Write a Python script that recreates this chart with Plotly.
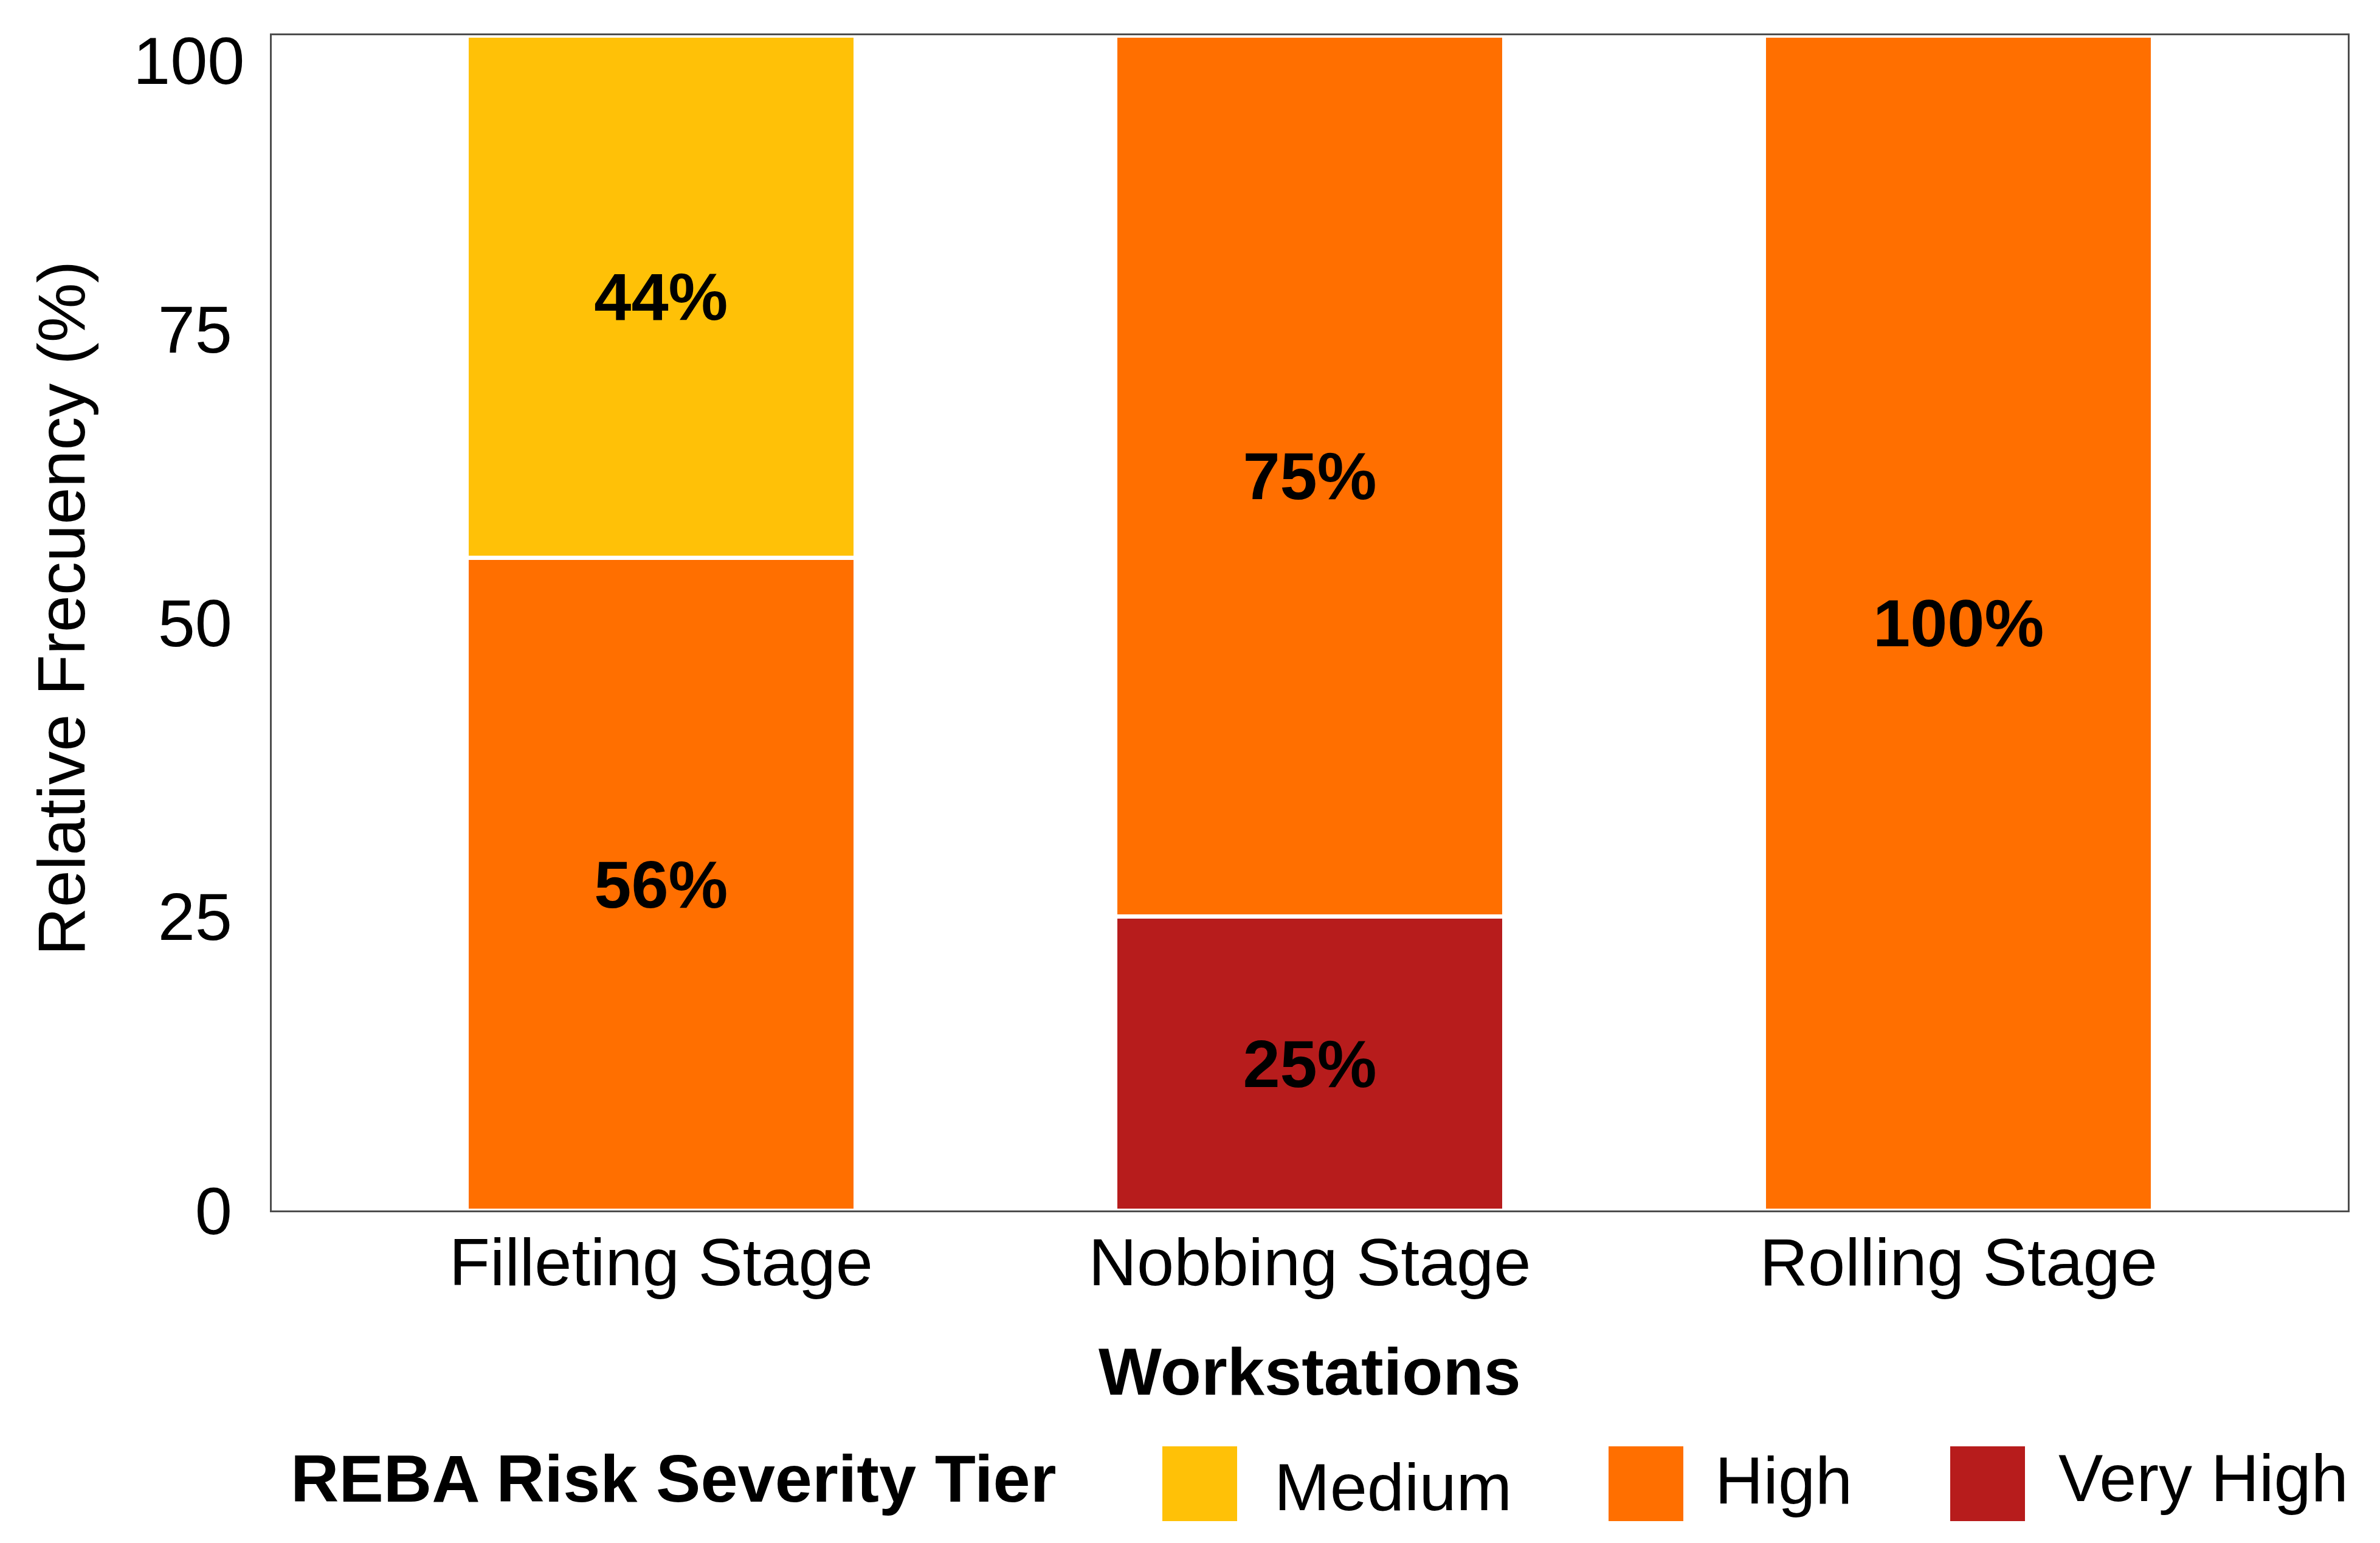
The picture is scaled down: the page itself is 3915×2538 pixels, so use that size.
import plotly.graph_objects as go

# ---------------- data ----------------
categories = ["Filleting Stage", "Nobbing Stage", "Rolling Stage"]
tiers = ["Very High", "High", "Medium"]          # stacking order bottom -> top
very_high = [None, 25.0, None]
high = [55.56, 75.0, 100.0]
medium = [44.44, None, None]
tier_colors = {"Medium": "#FFC107", "High": "#FF6F00", "Very High": "#B71C1C"}
legend_order = ["Medium", "High", "Very High"]
y_ticks = [0, 25, 50, 75, 100]
x_title = "Workstations"
y_title = "Relative Frecuency (%)"
legend_title = "REBA Risk Severity Tier"

series = {"Very High": very_high, "High": high, "Medium": medium}

# ---------------- layout geometry ----------------
W, H = 3915, 2538
PL, PR, PT, PB = 447, 3862, 58, 1991
FONT = "Liberation Sans, Arial, Helvetica, sans-serif"
FS = 110


def px_x(px):
    return (px - PL) / (PR - PL)


def px_y(py):
    return (PB - py) / (PB - PT)


fig = go.Figure()
for t in tiers:
    vals = series[t]
    labels = ["" if v is None else f"{round(v)}%" for v in vals]
    fig.add_trace(go.Bar(
        x=categories, y=vals, name=t,
        marker=dict(color=tier_colors[t], line=dict(color="white", width=7)),
        width=0.6,
        text=labels, textposition="inside", insidetextanchor="middle",
        textangle=0,
        insidetextfont=dict(family=FONT, size=FS, color="black", weight="bold"),
        showlegend=False, hoverinfo="skip",
    ))

axis_line = dict(showline=True, mirror=True, linecolor="#4d4d4d", linewidth=3,
                 showgrid=False, zeroline=False, ticks="")

fig.update_layout(
    width=W, height=H,
    margin=dict(l=PL, r=W - PR, t=PT, b=H - PB, pad=0),
    paper_bgcolor="white", plot_bgcolor="white",
    barmode="stack",
    font=dict(family=FONT, size=FS, color="black"),
    xaxis=dict(type="category", categoryorder="array", categoryarray=categories,
               range=[-0.6, 2.6], tickfont=dict(family=FONT, size=FS, color="black"),
               ticklabelstandoff=-12, **axis_line),
    yaxis=dict(range=[0, 100], tickvals=y_ticks[:-1], ticktext=[str(v) for v in y_ticks[:-1]],
               tickfont=dict(family=FONT, size=FS, color="black"),
               ticklabelstandoff=40, **axis_line),
    showlegend=False,
)

ann = []
# top tick label (nudged inside figure as in reference)
ann.append(dict(text=str(y_ticks[-1]), xref="paper", yref="y", x=0, y=y_ticks[-1],
                xanchor="right", yanchor="middle", xshift=-42, yshift=-41,
                showarrow=False, font=dict(family=FONT, size=FS, color="black")))
# axis titles
ann.append(dict(text=f"<b>{x_title}</b>", xref="paper", yref="paper", x=0.5, y=px_y(2255),
                xanchor="center", yanchor="middle", showarrow=False,
                font=dict(family=FONT, size=FS, color="black")))
ann.append(dict(text=y_title, xref="paper", yref="paper", x=px_x(100), y=px_y(1001),
                xanchor="center", yanchor="middle", textangle=-90, showarrow=False,
                font=dict(family=FONT, size=FS, color="black")))
# legend
ann.append(dict(text=f"<b>{legend_title}</b>", xref="paper", yref="paper", x=px_x(476), y=px_y(2431),
                xanchor="left", yanchor="middle", showarrow=False,
                font=dict(family=FONT, size=FS, color="black")))

sw_left = [1912, 2646, 3208]
txt_left = [2094, 2819, 3384]
txt_cy = [2445, 2434, 2430]
SW = 123
SW_TOP = 2379
shapes = []
for name, sl, tl, cy in zip(legend_order, sw_left, txt_left, txt_cy):
    shapes.append(dict(type="rect", xref="paper", yref="paper",
                       x0=px_x(sl), x1=px_x(sl + SW), y0=px_y(SW_TOP + SW), y1=px_y(SW_TOP),
                       fillcolor=tier_colors[name], line=dict(width=0)))
    ann.append(dict(text=name, xref="paper", yref="paper", x=px_x(tl), y=px_y(cy),
                    xanchor="left", yanchor="middle", showarrow=False,
                    font=dict(family=FONT, size=FS, color="black")))

fig.update_layout(annotations=ann, shapes=shapes)
fig.write_html("out.html", config={"displayModeBar": False})
